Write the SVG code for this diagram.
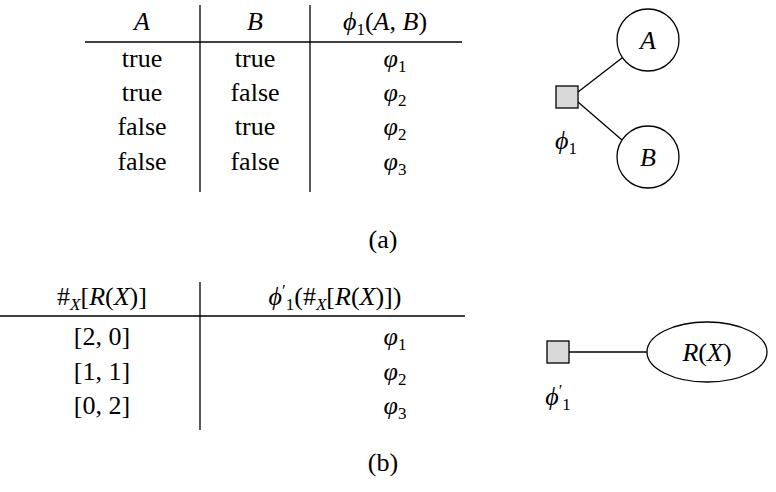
<svg xmlns="http://www.w3.org/2000/svg" width="776" height="492" viewBox="0 0 776 492" font-family="'Liberation Serif', 'Times New Roman', 'DejaVu Serif', serif">
<style>
text{font-family:'Liberation Serif','Times New Roman',serif;font-size:26px;fill:#000;text-anchor:middle}
.i{font-style:italic}
.s{font-size:17px}
.l{stroke:#000;stroke-width:1.3;fill:none}
.n{stroke:#000;stroke-width:1.3;fill:#fff}
.f{stroke:#000;stroke-width:1.3;fill:#d9d9d9}
</style>
<rect width="776" height="492" fill="#fff"/>
<g id="tableA">
<line class="l" x1="85" y1="42" x2="462" y2="42"/>
<line class="l" x1="200" y1="5" x2="200" y2="192"/>
<line class="l" x1="310" y1="5" x2="310" y2="192"/>
<text x="142" y="30" class="i">A</text>
<text x="255" y="30" class="i">B</text>
<text x="385" y="30"><tspan class="i">ϕ</tspan><tspan class="s" dy="5">1</tspan><tspan dy="-5">(</tspan><tspan class="i">A</tspan>, <tspan class="i">B</tspan>)</text>
<text x="142" y="67">true</text><text x="255" y="67">true</text>
<text x="142" y="101">true</text><text x="255" y="101">false</text>
<text x="142" y="135">false</text><text x="255" y="135">true</text>
<text x="142" y="170">false</text><text x="255" y="170">false</text>
<text x="395" y="67"><tspan class="i">φ</tspan><tspan class="s" dy="5">1</tspan></text>
<text x="395" y="101"><tspan class="i">φ</tspan><tspan class="s" dy="5">2</tspan></text>
<text x="395" y="135"><tspan class="i">φ</tspan><tspan class="s" dy="5">2</tspan></text>
<text x="395" y="170"><tspan class="i">φ</tspan><tspan class="s" dy="5">3</tspan></text>
</g>
<g id="connectors">
<line class="l" x1="578" y1="92" x2="622" y2="58"/>
<line class="l" x1="578" y1="102" x2="622" y2="140"/>
<line class="l" x1="569" y1="352" x2="647" y2="352"/>
</g>
<g id="nodeA"><circle class="n" cx="648" cy="40" r="31"/><text x="648" y="49" class="i">A</text></g>
<g id="nodeB"><circle class="n" cx="648" cy="157" r="31"/><text x="648" y="166" class="i">B</text></g>
<g id="factor1"><rect class="f" x="556" y="86" width="22" height="22"/><text x="566" y="149"><tspan class="i">ϕ</tspan><tspan class="s" dy="5">1</tspan></text></g>
<text x="383" y="248">(a)</text>
<g id="tableB">
<line class="l" x1="0" y1="316" x2="465" y2="316"/>
<line class="l" x1="200" y1="282" x2="200" y2="430"/>
<text x="102" y="305">#<tspan class="i s" dy="5">X</tspan><tspan dy="-5">[</tspan><tspan class="i">R</tspan>(<tspan class="i">X</tspan>)]</text>
<text x="335" y="305"><tspan class="i">ϕ</tspan><tspan class="s" dy="-9">′</tspan><tspan class="s" dy="14">1</tspan><tspan dy="-5">(#</tspan><tspan class="i s" dy="5">X</tspan><tspan dy="-5">[</tspan><tspan class="i">R</tspan>(<tspan class="i">X</tspan>)])</text>
<text x="102" y="345">[2, 0]</text>
<text x="102" y="380">[1, 1]</text>
<text x="102" y="414">[0, 2]</text>
<text x="395" y="345"><tspan class="i">φ</tspan><tspan class="s" dy="5">1</tspan></text>
<text x="395" y="380"><tspan class="i">φ</tspan><tspan class="s" dy="5">2</tspan></text>
<text x="395" y="414"><tspan class="i">φ</tspan><tspan class="s" dy="5">3</tspan></text>
</g>
<g id="factor2"><rect class="f" x="547" y="341" width="22" height="22"/><text x="558" y="405"><tspan class="i">ϕ</tspan><tspan class="s" dy="-9">′</tspan><tspan class="s" dy="14">1</tspan></text></g>
<g id="nodeR"><ellipse class="n" cx="707" cy="352" rx="60" ry="30"/><text x="707" y="361"><tspan class="i">R</tspan>(<tspan class="i">X</tspan>)</text></g>
<text x="383" y="471">(b)</text>
</svg>
